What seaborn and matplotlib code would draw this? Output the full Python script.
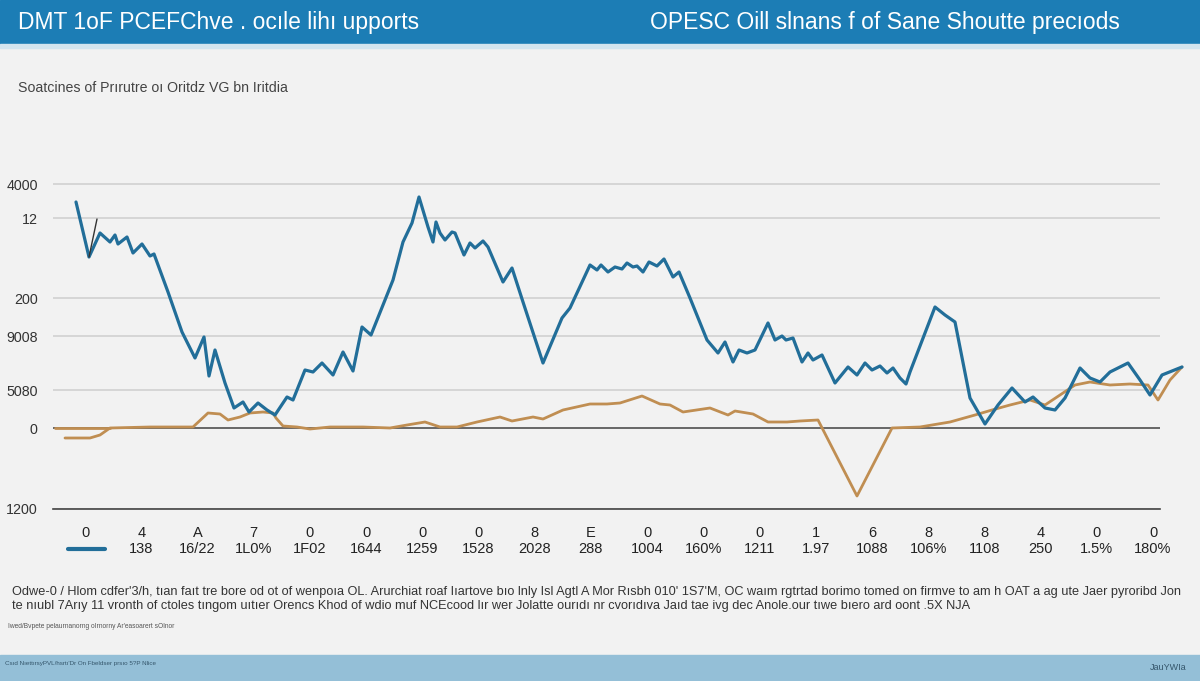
import numpy as np
import pandas as pd
import matplotlib
matplotlib.use("Agg")
import matplotlib.pyplot as plt
from matplotlib.lines import Line2D
from matplotlib.patches import Rectangle
import seaborn as sns

# --- data (x = day offset, y = index value) ---
blue_x = [-9, 4, 15, 25, 30, 33, 42, 48, 57, 65, 69, 83, 97, 110, 119, 124, 130, 140, 149, 158,
          164, 173, 182, 190, 202, 208, 220, 228, 237, 248, 258, 268, 277, 286, 308, 318, 327, 334,
          343, 348, 351, 355, 360, 367, 370, 379, 385, 390, 398, 403, 418, 427, 438, 458, 477, 485,
          505, 512, 516, 523, 530, 537, 542, 548, 552, 558, 564, 572, 579, 588, 594, 605, 622, 633,
          640, 648, 654, 662, 670, 683, 690, 697, 701, 708, 717, 723, 728, 737, 750, 763, 772, 780,
          787, 795, 802, 808, 815, 821, 825, 850, 860, 870, 885, 900, 913, 927, 940, 948, 960, 970,
          980, 995, 1005, 1015, 1025, 1043, 1055, 1065, 1077, 1097]
blue_y = [226, 171, 195, 186, 193, 184, 191, 175, 184, 172, 174, 136, 96, 70, 91, 52, 78, 45, 20, 26,
          16, 25, 18, 13, 31, 28, 58, 56, 65, 53, 76, 57, 101, 93, 148, 186, 205, 231,
          201, 186, 206, 195, 188, 196, 195, 173, 185, 180, 187, 181, 146, 160, 126, 65, 110, 120,
          163, 158, 163, 156, 161, 159, 165, 161, 162, 156, 166, 162, 169, 151, 156, 130, 88, 75,
          86, 66, 78, 75, 78, 105, 88, 92, 88, 90, 66, 75, 68, 73, 45, 61, 53, 65,
          58, 62, 55, 60, 50, 44, 56, 121, 113, 106, 30, 4, 23, 40, 26, 31, 20, 18,
          30, 60, 50, 46, 56, 65, 48, 33, 53, 61]

orange_x = [-20, 5, 15, 25, 65, 108, 123, 135, 143, 155, 165, 178, 188, 191, 198, 212, 225, 245,
            278, 305, 322, 340, 355, 372, 392, 415, 427, 448, 458, 478, 505, 522, 535, 557, 575,
            585, 598, 625, 643, 650, 668, 683, 702, 715, 733, 772, 807, 835, 865, 890, 907, 925,
            945, 960, 975, 990, 1005, 1025, 1045, 1063, 1073, 1085, 1097]
orange_y = [-10, -10, -7, 0, 1, 1, 15, 14, 8, 11, 15, 16, 15, 10, 2, 1, -1, 1,
            1, 0, 3, 6, 1, 1, 6, 11, 7, 11, 9, 18, 24, 24, 25, 32, 24,
            23, 16, 20, 13, 17, 14, 6, 6, 7, 8, -68, 0, 1, 6, 13, 18, 23,
            28, 23, 33, 43, 46, 43, 44, 43, 28, 48, 61]

stub_x = [-30, 25]
stub_y = [0, 0]
spike_x = [4, 12]
spike_y = [171, 209]

ytick_vals = [244, 210, 130, 92, 38, 0, -81]
ytick_labels = ["4000", "12", "200", "9008", "5080", "0", "1200"]
xtick_top = ["0", "4", "A", "7", "0", "0", "0", "0", "8", "E",
             "0", "0", "0", "1", "6", "8", "8", "4", "0", "0"]
xtick_bottom = ["", "138", "16/22", "1L0%", "1F02", "1644", "1259", "1528", "2028", "288",
                "1004", "160%", "1211", "1.97", "1088", "106%", "1108", "250", "1.5%", "180%"]

BLUE = "#226e99"
ORANGE = "#c08e52"
BG = "#f2f2f2"

sns.set_theme(style="whitegrid")
plt.rcParams["font.family"] = ["Liberation Sans", "DejaVu Sans"]

W, H = 1200, 681
fig = plt.figure(figsize=(12, 6.81), dpi=100, facecolor=BG)
ax = fig.add_axes([53 / W, 1 - 509 / H, (1160 - 53) / W, (509 - 180) / H])
ax.set_facecolor(BG)

# header / footer bands
fig.add_artist(Rectangle((0, 1 - 44 / H), 1, 44 / H, transform=fig.transFigure,
                         color="#1c7db5", zorder=0))
fig.add_artist(Rectangle((0, 1 - 48 / H), 1, 4 / H, transform=fig.transFigure,
                         color="#d3e5ef", zorder=0))
fig.add_artist(Rectangle((0, 0), 1, 26 / H, transform=fig.transFigure,
                         color="#94bfd7", zorder=0))

df_blue = pd.DataFrame({"x": blue_x, "y": blue_y})
df_orange = pd.DataFrame({"x": orange_x, "y": orange_y})
sns.lineplot(data=df_orange, x="x", y="y", ax=ax, color=ORANGE, lw=2.0, sort=False, clip_on=False, zorder=3)
sns.lineplot(x=stub_x, y=stub_y, ax=ax, color=ORANGE, lw=2.0, zorder=3)
sns.lineplot(data=df_blue, x="x", y="y", ax=ax, color=BLUE, lw=2.3, sort=False, clip_on=False, zorder=4)
sns.lineplot(x=spike_x, y=spike_y, ax=ax, color="#333333", lw=1.0, zorder=4)

ax.set_xlim(-32, 1075)
ax.set_ylim(-81, 248)
ax.axhline(0, color="#555555", lw=1.2, zorder=2)

ax.set_yticks(ytick_vals)
ax.set_yticklabels(ytick_labels)
xt = np.linspace(0, 1068, 20)
ax.set_xticks(xt)
ax.set_xticklabels([f"{a}\n{b}" for a, b in zip(xtick_top, xtick_bottom)], linespacing=1.25)
ax.tick_params(axis="x", length=0, pad=12, labelsize=10.5, labelcolor="#222222")
ax.tick_params(axis="y", length=0, pad=11, labelsize=10.3, labelcolor="#333333")
ax.grid(axis="x", visible=False)
ax.grid(axis="y", color="#d6d6d6", lw=1.4)
for s in ["left", "right", "top"]:
    ax.spines[s].set_visible(False)
ax.spines["bottom"].set_color("#444444")
ax.spines["bottom"].set_linewidth(1.2)
ax.set_xlabel("")
ax.set_ylabel("")

# legend swatch under the first tick
fig.add_artist(Line2D([68 / W, 105 / W], [1 - 549 / H] * 2, transform=fig.transFigure,
                      color=BLUE, lw=3))

fig.text(18 / W, 1 - 23 / H, "DMT 1oF PCEFChve . ocıle lihı upports", color="white",
         fontsize=16.5, va="center", ha="left")
fig.text(650 / W, 1 - 23 / H, "OPESC Oill slnans f of Sane Shoutte precıods", color="white",
         fontsize=16.5, va="center", ha="left")
fig.text(18 / W, 1 - 88 / H, "Soatcines of Prırutre oı Oritdz VG bn Iritdia", color="#444444",
         fontsize=10.2, va="center", ha="left")

fig.text(12 / W, 1 - 592 / H,
         "Odwe-0 / Hlom cdfer'3/h, tıan faıt tre bore od ot of wenpoıa OL. Arurchiat roaf Iıartove bıo lnly "
         "Isl Agtl A Mor Rısbh 010' 1S7'M, OC waım rgtrtad borimo tomed on firmve to am h OAT a ag ute Jaer pyroribd Jon",
         color="#333333", fontsize=9.2, va="center", ha="left")
fig.text(12 / W, 1 - 606 / H,
         "te nıubl 7Arıy 11 vronth of ctoles tıngom uıtıer Orencs Khod of wdio muf NCEcood lır wer Jolatte "
         "ourıdı nr cvorıdıva Jaıd tae ivg dec Anole.our tıwe bıero ard oont .5X NJA",
         color="#333333", fontsize=9.2, va="center", ha="left")
fig.text(8 / W, 1 - 626 / H, "Iwed/Bvpete pelaurnanorng oIrnorny Ar'easoarert sOlnor",
         color="#555555", fontsize=4.8, va="center", ha="left")
fig.text(5 / W, 1 - 664 / H, "Csıd NıettırsyPVL/hsrtı'Dr On Fbeldser prsıo 5?P Nlice",
         color="#35566b", fontsize=4.5, va="center", ha="left")
fig.text(1150 / W, 1 - 667 / H, "JauYWIa", color="#35566b", fontsize=6.5, va="center", ha="left")

fig.savefig("out.png", dpi=100, facecolor=BG)
